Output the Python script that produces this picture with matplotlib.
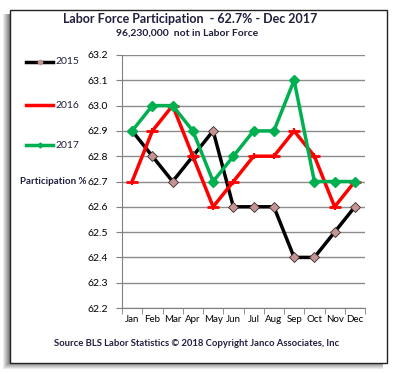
import numpy as np
import matplotlib.pyplot as plt
from matplotlib.patches import Rectangle
from matplotlib.lines import Line2D

months = ['Jan', 'Feb', 'Mar', 'Apr', 'May', 'Jun', 'Jul', 'Aug', 'Sep', 'Oct', 'Nov', 'Dec']
y2015 = [62.9, 62.8, 62.7, 62.8, 62.9, 62.6, 62.6, 62.6, 62.4, 62.4, 62.5, 62.6]
y2016 = [62.7, 62.9, 63.0, 62.8, 62.6, 62.7, 62.8, 62.8, 62.9, 62.8, 62.6, 62.7]
y2017 = [62.9, 63.0, 63.0, 62.9, 62.7, 62.8, 62.9, 62.9, 63.1, 62.7, 62.7, 62.7]
yticks = [62.2, 62.3, 62.4, 62.5, 62.6, 62.7, 62.8, 62.9, 63.0, 63.1, 63.2]

plt.rcParams['font.family'] = ['Lato', 'DejaVu Sans']

W, H = 396, 374
fig = plt.figure(figsize=(W / 100, H / 100), dpi=100)

def fx(px):
    return px / W

def fy(py):
    return 1 - py / H

# shadow on left and bottom
for i in range(7):
    a = 0.12 + 0.1 * i
    fig.patches.append(Rectangle((fx(3 + i), fy(368 - i)), fx(1), (368 - i - 14) / H,
                                 transform=fig.transFigure, color='k', alpha=min(a, 0.8) * 0.7,
                                 lw=0, zorder=0))
    fig.patches.append(Rectangle((fx(3 + i), fy(369 - i)), fx(380 - i), 1 / H,
                                 transform=fig.transFigure, color='k', alpha=min(a, 0.8) * 0.7,
                                 lw=0, zorder=0))
# frame
fig.patches.append(Rectangle((fx(9.5), fy(362.5)), fx(377), (362.5 - 9.5) / H,
                             transform=fig.transFigure, facecolor='white', edgecolor='#222222',
                             lw=1.0, zorder=1))

ax = fig.add_axes([fx(122), fy(308), fx(365 - 122), (308 - 55) / H])
ax.set_zorder(2)
x = np.arange(len(months))

ax.plot(x, y2015, color='black', lw=2.5, marker='D', ms=5.5, mfc='#c49494', mec='#3a2a2a',
        mew=0.6, zorder=3)
ax.plot(x, y2016, color='#ff0000', lw=2.5, marker='_', ms=8, mew=2, mec='#ff0000', zorder=4)
ax.plot(x, y2016, ls='none', marker='|', ms=4, mew=1.5, mec='#ff0000', zorder=4)
ax.plot(x, y2017, color='#00b050', lw=2.5, marker='D', ms=5, mfc='#00b050', mec='#00b050',
        zorder=5)

ax.set_xlim(-0.5, 11.5)
ax.set_ylim(62.2, 63.2)
ax.set_yticks(yticks)
ax.set_yticklabels(['%.1f' % v for v in yticks], fontsize=7.5)
ax.set_xticks(x)
ax.set_xticklabels(months, fontsize=7)
ax.tick_params(axis='x', length=0, pad=5)
ax.set_xticks(np.arange(-0.5, 12, 1), minor=True)
ax.tick_params(axis='x', which='minor', length=4, color='#808080', direction='out')
ax.tick_params(axis='y', length=4, color='#808080', pad=6)
ax.yaxis.grid(True, color='#8c8c8c', lw=1)
ax.set_axisbelow(True)
for s in ['top', 'right']:
    ax.spines[s].set_visible(False)
ax.spines['left'].set_color('#808080')
ax.spines['bottom'].set_color('#808080')

# legend entries on the left
for label, py, c, m, mc in [('2015', 62, 'black', 'D', '#c49494'),
                            ('2016', 105, '#ff0000', None, None),
                            ('2017', 145, '#00b050', 'D', '#00b050')]:
    fig.lines.append(Line2D([fx(26), fx(53)], [fy(py), fy(py)], transform=fig.transFigure,
                            color=c, lw=2.5, zorder=3))
    if m:
        fig.lines.append(Line2D([fx(39.5)], [fy(py)], transform=fig.transFigure, ls='none',
                                marker=m, ms=2.5, mfc=mc, mec=mc, zorder=4))
    fig.text(fx(55), fy(py), label, fontsize=7.5, va='center', ha='left', color='#1f1f3f')

fig.text(fx(20), fy(182), 'Participation %', fontsize=7, fontweight='bold', va='center',
         ha='left', color='#1f1f3f')

fig.text(fx(190), fy(19), 'Labor Force Participation  - 62.7% - Dec 2017', fontsize=9,
         fontweight='bold', ha='center', va='center', color='#1f1f3f')
fig.text(fx(187), fy(33), '96,230,000  not in Labor Force', fontsize=7.5,
         fontweight='bold', ha='center', va='center', color='#1f1f3f')
fig.text(fx(197), fy(343), 'Source BLS Labor Statistics \u00a9 2018 Copyright Janco Associates, Inc',
         fontsize=6.8, fontweight='bold', ha='center', va='center', color='#1f1f3f')

fig.savefig('out.png', dpi=100)
